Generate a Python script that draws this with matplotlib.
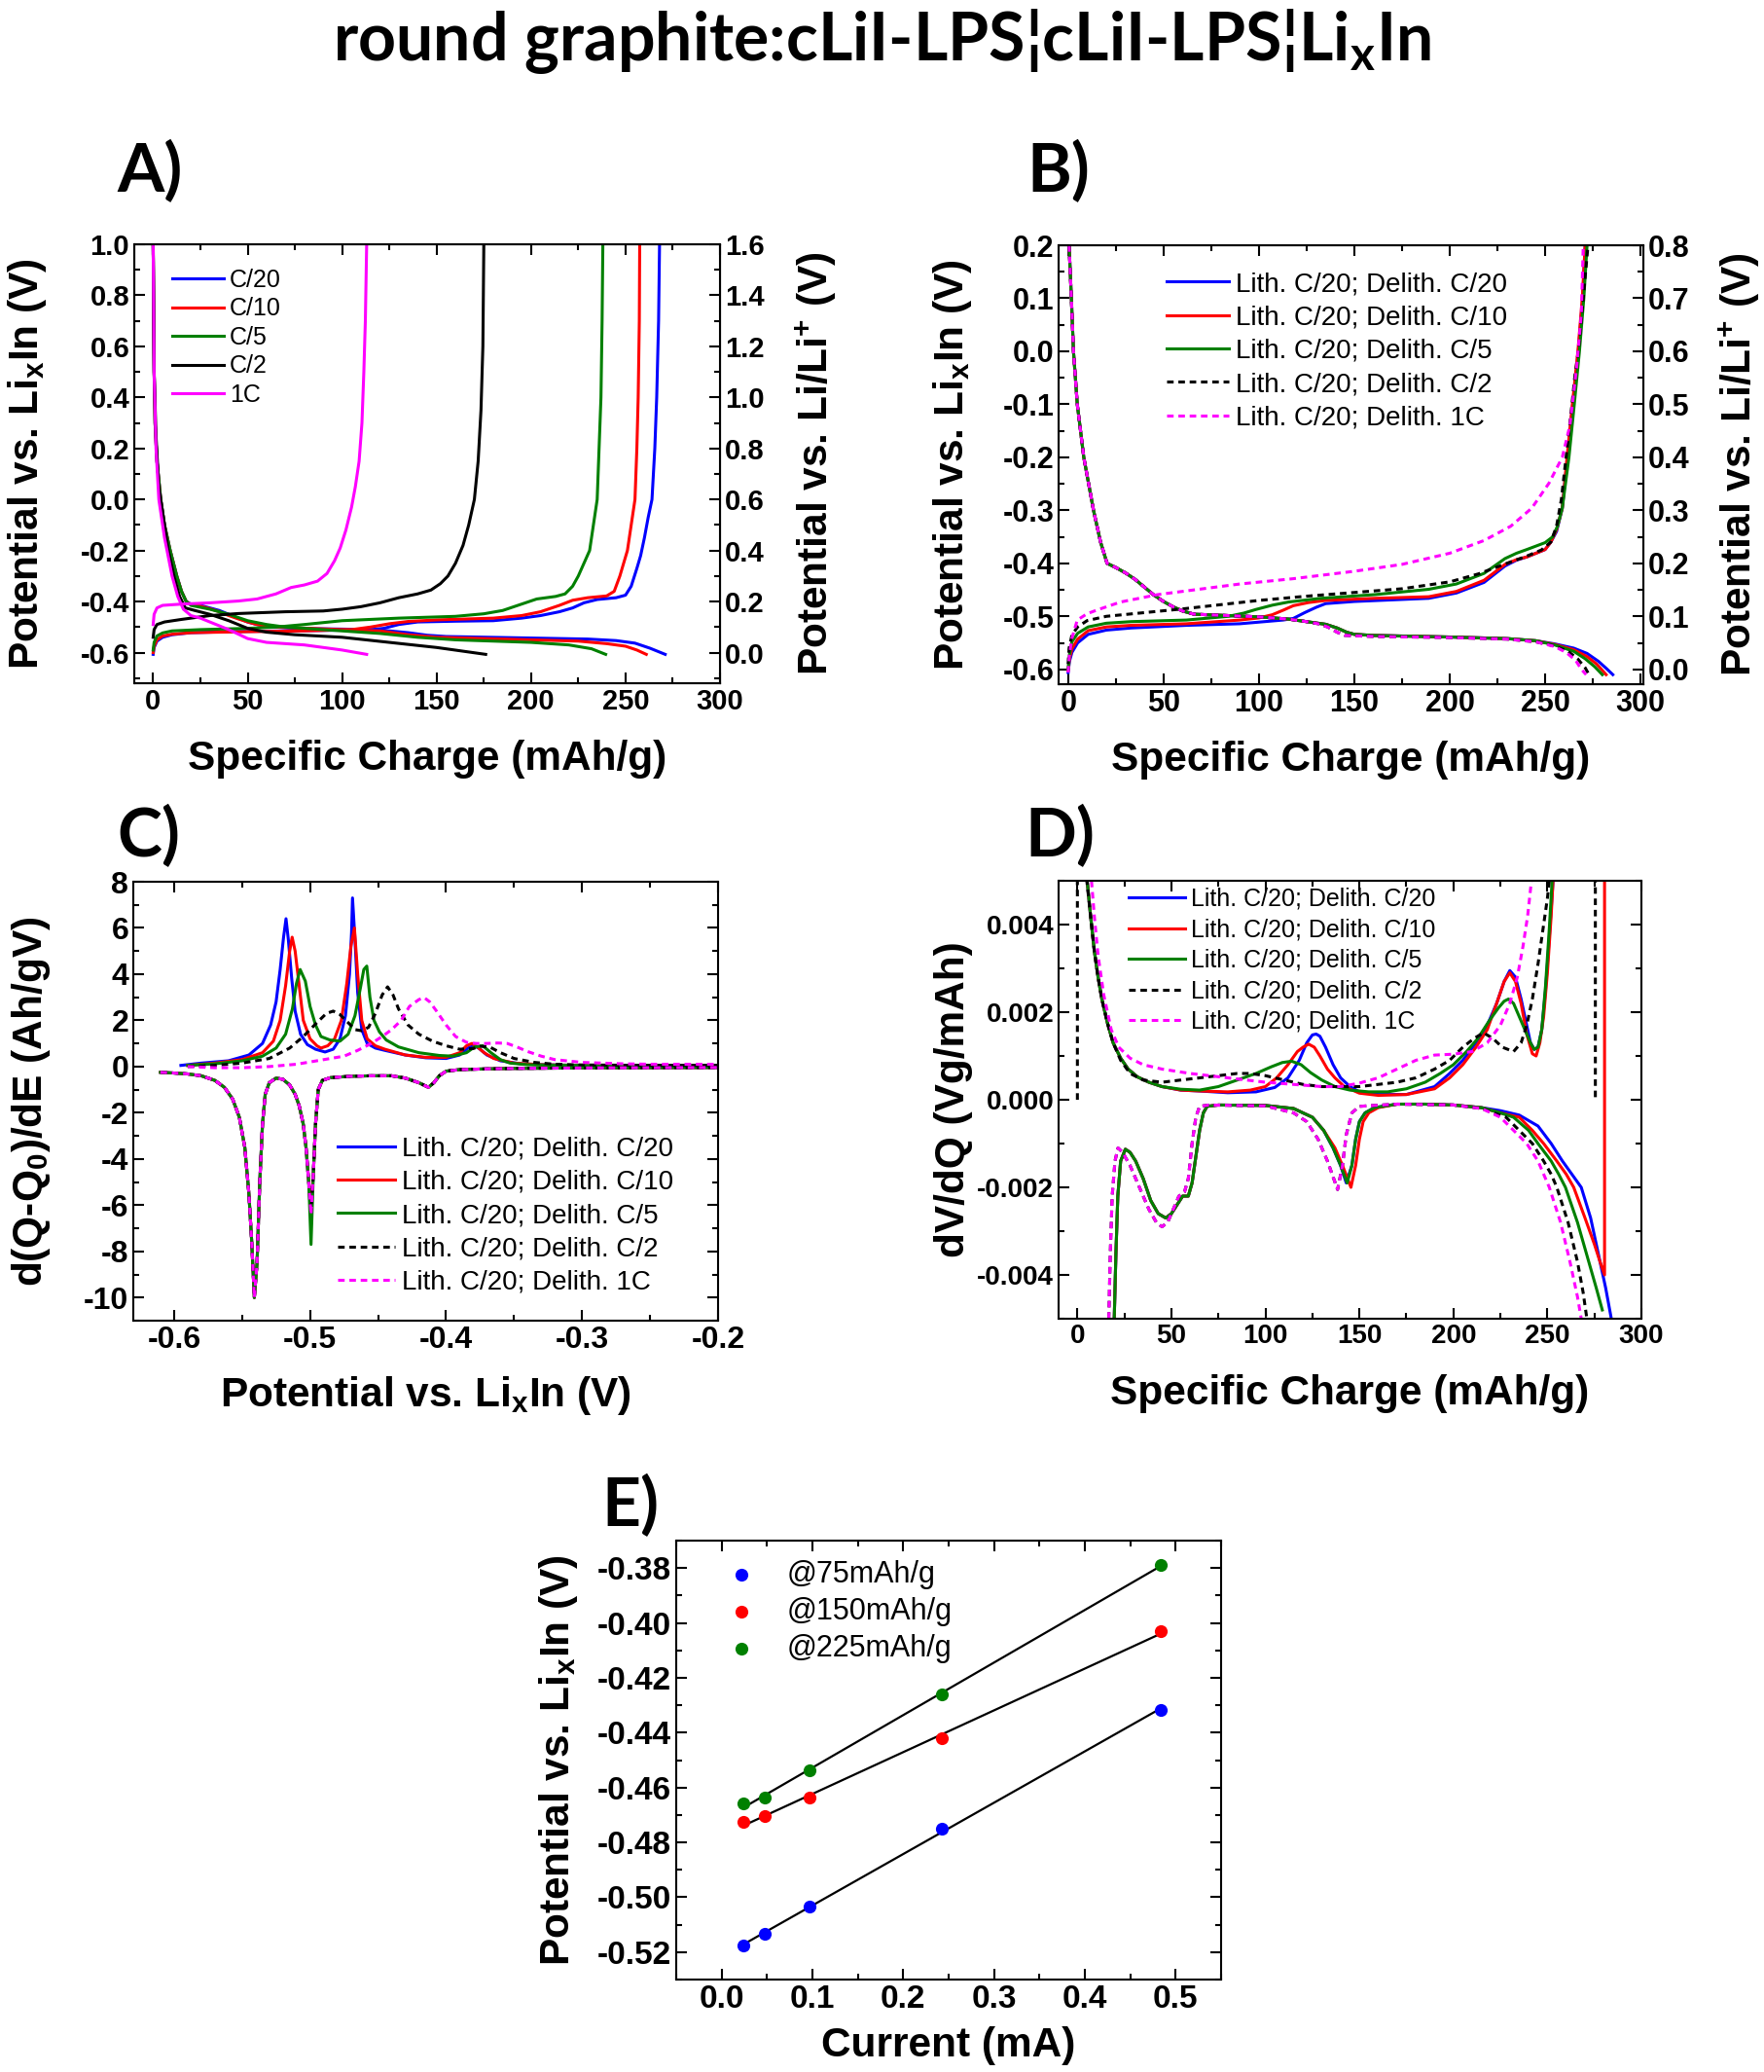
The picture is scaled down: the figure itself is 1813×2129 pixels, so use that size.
import numpy as np
import matplotlib
matplotlib.use("Agg")
import matplotlib.pyplot as plt
from matplotlib.ticker import MultipleLocator, FormatStrFormatter

W, H = 1813, 2129

plt.rcParams['font.family'] = ['Liberation Sans', 'DejaVu Sans']
plt.rcParams['font.weight'] = 'bold'
plt.rcParams['axes.unicode_minus'] = False
plt.rcParams['mathtext.default'] = 'regular'

COLORS = ['#0000ff', '#ff0000', '#008000', '#000000', '#ff00ff']
DASHED = [False, False, False, True, True]
RATES = ['C/20', 'C/10', 'C/5', 'C/2', '1C']
LEGEND_LABELS = ['Lith. C/20; Delith. C/20', 'Lith. C/20; Delith. C/10',
                 'Lith. C/20; Delith. C/5', 'Lith. C/20; Delith. C/2',
                 'Lith. C/20; Delith. 1C']

# ---- A) galvanostatic curves, (specific charge mAh/g, potential V) ----
A_LITH_C20 = [(0, 1.0), (0.5, 0.5), (1, 0.3), (2, 0.15), (4, 0.0), (6, -0.1), (9, -0.2), (12.5, -0.3),
              (15, -0.36), (17.5, -0.4), (20, -0.41), (25, -0.415), (30, -0.425), (35, -0.435), (40, -0.45),
              (45, -0.465), (50, -0.48), (55, -0.49), (60, -0.497), (65, -0.50), (75, -0.505), (100, -0.508),
              (115, -0.51), (125, -0.515), (135, -0.522), (145, -0.532), (155, -0.537), (200, -0.543),
              (230, -0.547), (245, -0.553), (255, -0.563), (263, -0.583), (271, -0.607)]
A_DELITH_C20 = [(0, -0.607), (0.5, -0.58), (2, -0.555), (5, -0.54), (10, -0.53), (20, -0.522), (40, -0.518),
                (70, -0.515), (100, -0.512), (115, -0.51), (122, -0.505), (130, -0.49), (140, -0.48),
                (160, -0.477), (180, -0.475), (195, -0.465), (205, -0.455), (215, -0.44), (222, -0.425),
                (228, -0.405), (235, -0.392), (245, -0.385), (250, -0.375), (253, -0.34), (256, -0.27),
                (258, -0.22), (260, -0.15), (262, -0.07), (264, 0.0), (265.5, 0.2), (266.5, 0.4),
                (267.5, 0.7), (268, 1.0)]
A_LITH_C10 = [(0, 1.0), (0.5, 0.5), (1, 0.3), (2, 0.15), (4, 0.0), (6, -0.1), (9, -0.2), (12.5, -0.3),
              (15, -0.36), (17.5, -0.4), (20, -0.412), (25, -0.418), (30, -0.428), (35, -0.44), (40, -0.455),
              (45, -0.468), (50, -0.48), (55, -0.49), (60, -0.497), (65, -0.50), (100, -0.51), (120, -0.515),
              (135, -0.53), (150, -0.54), (200, -0.55), (225, -0.555), (240, -0.565), (250, -0.575),
              (256, -0.59), (261, -0.607)]
A_DELITH_C10 = [(0, -0.60), (0.5, -0.575), (2, -0.55), (5, -0.535), (10, -0.528), (20, -0.522), (50, -0.518),
                (80, -0.515), (105, -0.51), (115, -0.5), (125, -0.487), (135, -0.478), (150, -0.472),
                (180, -0.465), (195, -0.455), (205, -0.44), (215, -0.415), (222, -0.395), (230, -0.385),
                (240, -0.378), (244, -0.36), (247, -0.3), (249, -0.25), (251, -0.2), (253, -0.1), (255, 0.0),
                (256, 0.2), (256.7, 0.4), (257.3, 0.7), (257.5, 1.0)]
A_LITH_C5 = [(0, 1.0), (0.5, 0.5), (1, 0.3), (2, 0.15), (4, 0.0), (6, -0.1), (9, -0.2), (12.5, -0.3),
             (15, -0.36), (17.5, -0.4), (20, -0.415), (30, -0.43), (40, -0.45), (50, -0.475), (60, -0.49),
             (70, -0.50), (100, -0.515), (120, -0.525), (140, -0.54), (160, -0.55), (200, -0.56),
             (220, -0.57), (232, -0.585), (239.5, -0.607)]
A_DELITH_C5 = [(0, -0.59), (0.5, -0.56), (2, -0.535), (5, -0.523), (10, -0.515), (25, -0.51), (50, -0.505),
               (65, -0.50), (80, -0.49), (100, -0.475), (130, -0.465), (160, -0.458), (175, -0.448),
               (185, -0.435), (195, -0.41), (203, -0.39), (213, -0.38), (218, -0.37), (222, -0.34),
               (225, -0.3), (228, -0.25), (231, -0.2), (233, -0.1), (235, 0.0), (236, 0.2), (237, 0.4),
               (237.6, 0.7), (238, 1.0)]
A_LITH_C2 = [(0, 1.0), (0.5, 0.5), (1.5, 0.25), (3, 0.05), (5, -0.05), (8, -0.2), (11, -0.3), (14, -0.38),
             (17, -0.425), (22, -0.435), (30, -0.45), (40, -0.475), (50, -0.505), (60, -0.52), (75, -0.53),
             (100, -0.54), (125, -0.56), (150, -0.58), (176, -0.607)]
A_DELITH_C2 = [(0, -0.54), (0.5, -0.51), (2, -0.49), (6, -0.48), (15, -0.47), (30, -0.455), (45, -0.447),
               (70, -0.44), (90, -0.437), (100, -0.43), (110, -0.42), (120, -0.405), (130, -0.385),
               (140, -0.37), (147, -0.355), (152, -0.33), (156, -0.3), (160, -0.25), (164, -0.18),
               (167, -0.1), (170, 0.0), (172, 0.15), (173.5, 0.35), (174.5, 0.6), (175, 1.0)]
A_LITH_1C = [(0, 1.0), (0.5, 0.5), (1.5, 0.2), (3, 0.0), (6, -0.15), (10, -0.3), (13, -0.38), (16, -0.43),
             (20, -0.455), (25, -0.465), (30, -0.48), (40, -0.51), (50, -0.545), (60, -0.56), (80, -0.57),
             (100, -0.59), (113, -0.607)]
A_DELITH_1C = [(0, -0.49), (0.5, -0.45), (2, -0.425), (5, -0.415), (15, -0.41), (30, -0.405), (45, -0.398),
               (55, -0.39), (65, -0.37), (73, -0.345), (80, -0.335), (87, -0.32), (92, -0.29), (96, -0.24),
               (99, -0.19), (102, -0.12), (105, -0.03), (107, 0.05), (109, 0.15), (110.5, 0.3),
               (111.5, 0.5), (112.3, 0.7), (113, 1.0)]

# ---- B) lithiation C/20, delithiation at different rates ----
B_LITH_SOLID_HEAD = [(0.5, 0.2), (1.7, 0.1), (2.8, 0.0), (4.8, -0.1), (8.2, -0.2), (13.3, -0.3), (17, -0.36),
                     (20.4, -0.40), (25, -0.408), (30, -0.418), (35, -0.43), (40, -0.445), (45, -0.46),
                     (50, -0.472), (55, -0.482), (60, -0.49), (66, -0.496), (80, -0.498), (100, -0.501),
                     (115, -0.505), (125, -0.51), (135, -0.515), (141, -0.522), (146, -0.53), (150, -0.534),
                     (160, -0.536), (200, -0.539), (230, -0.542), (245, -0.546)]
B_LITH_DASHED_HEAD = [(0.5, 0.2), (1.7, 0.1), (2.8, 0.0), (4.8, -0.1), (8.2, -0.2), (13.3, -0.3), (17, -0.36),
                      (20.4, -0.40), (25, -0.408), (30, -0.418), (35, -0.43), (40, -0.445), (45, -0.46),
                      (50, -0.472), (55, -0.482), (60, -0.49), (66, -0.496), (80, -0.498), (100, -0.501),
                      (115, -0.505), (125, -0.51), (131, -0.514), (136, -0.52), (141, -0.53), (145, -0.536),
                      (160, -0.538), (200, -0.54), (230, -0.543), (245, -0.548)]
B_LITH_TAIL_C20 = [(255, -0.552), (265, -0.56), (272, -0.57), (278, -0.585), (282, -0.598), (285.5, -0.61)]
B_LITH_TAIL_C10 = [(255, -0.553), (265, -0.563), (272, -0.576), (277, -0.59), (282, -0.61)]
B_LITH_TAIL_C5 = [(255, -0.554), (265, -0.566), (271, -0.58), (276, -0.595), (280, -0.61)]
B_LITH_TAIL_C2 = [(255, -0.556), (262, -0.566), (267, -0.58), (271, -0.597), (273, -0.61)]
B_LITH_TAIL_1C = [(255, -0.557), (261, -0.568), (266, -0.583), (269, -0.6), (271.5, -0.61)]
B_DELITH_C20 = [(0, -0.606), (0.7, -0.585), (2, -0.568), (5, -0.55), (10.5, -0.534), (20, -0.526),
                (33, -0.522), (62, -0.517), (90, -0.514), (112.7, -0.507), (118, -0.504), (124, -0.493),
                (130, -0.483), (135, -0.476), (150, -0.472), (189, -0.466), (203.5, -0.456), (218, -0.436),
                (229, -0.405), (235, -0.394), (240.4, -0.388), (250, -0.374), (253, -0.36), (256, -0.34),
                (259, -0.296), (261.7, -0.2), (264.5, -0.1), (267.4, 0.0), (269.7, 0.1), (271, 0.2)]
B_DELITH_C10 = [(0, -0.602), (0.7, -0.58), (2, -0.561), (5, -0.543), (10.5, -0.527), (20, -0.52),
                (33, -0.517), (62, -0.514), (90, -0.507), (100, -0.503), (107, -0.497), (113, -0.488),
                (118, -0.48), (126, -0.474), (135, -0.47), (161, -0.466), (189, -0.463), (203.5, -0.453),
                (218, -0.432), (229, -0.402), (235, -0.393), (240.4, -0.388), (250, -0.374), (253, -0.36),
                (256, -0.337), (259, -0.296), (261.5, -0.2), (264.3, -0.1), (267.2, 0.0), (269.5, 0.1),
                (271, 0.2)]
B_DELITH_C5 = [(0, -0.599), (0.7, -0.572), (2, -0.548), (5, -0.532), (10.5, -0.52), (20, -0.513),
               (33, -0.51), (62, -0.507), (84, -0.5), (92, -0.494), (98.5, -0.487), (107, -0.479),
               (115.5, -0.473), (132.5, -0.466), (161, -0.459), (189, -0.449), (203.5, -0.439),
               (218, -0.419), (229, -0.391), (235, -0.381), (240.4, -0.374), (250, -0.361), (254, -0.35),
               (256.5, -0.33), (259, -0.296), (262.5, -0.2), (265.3, -0.1), (268, 0.0), (270.3, 0.1),
               (272, 0.2)]
B_DELITH_C2 = [(0, -0.59), (0.5, -0.56), (2, -0.535), (5, -0.52), (10, -0.508), (20, -0.5), (40, -0.493),
               (60, -0.486), (80, -0.478), (100, -0.47), (125, -0.462), (150, -0.455), (175, -0.448),
               (200, -0.435), (215, -0.42), (230, -0.4), (240, -0.387), (248, -0.375), (253, -0.36),
               (256, -0.33), (258.5, -0.28), (261, -0.2), (263.5, -0.12), (265.5, -0.05), (267.4, 0.0),
               (270, 0.1), (272.5, 0.2)]
B_DELITH_1C = [(0, -0.606), (0.6, -0.575), (2, -0.541), (4.8, -0.507), (10, -0.495), (16, -0.487),
               (27.5, -0.473), (47, -0.459), (90, -0.439), (118, -0.429), (150, -0.415), (175, -0.402),
               (200, -0.381), (218, -0.357), (232, -0.33), (243, -0.296), (252, -0.249), (259, -0.2),
               (263, -0.14), (266.5, -0.031), (269, 0.071), (270, 0.2)]

# ---- C) differential capacity, potential (V) ----
C_LITH_V = [-0.61, -0.60, -0.59, -0.58, -0.57, -0.563, -0.557, -0.552, -0.548, -0.545, -0.543, -0.541, -0.539,
            -0.537, -0.535, -0.533, -0.530, -0.525, -0.52, -0.515, -0.511, -0.508, -0.505, -0.503, -0.501,
            -0.4993, -0.4975, -0.496, -0.494, -0.491, -0.485, -0.47, -0.455, -0.44, -0.43, -0.42, -0.413,
            -0.409, -0.405, -0.40, -0.39, -0.37, -0.35, -0.3, -0.25, -0.2]
C_LITH_DQ = [-0.25, -0.28, -0.32, -0.4, -0.6, -0.9, -1.4, -2.2, -3.5, -5.5, -7.5, -10.0, -8.5, -5.0, -2.5,
             -1.2, -0.7, -0.5, -0.55, -0.8, -1.2, -1.7, -2.5, -3.5, -5.0, -6.4, -4.5, -2.5, -1.0, -0.6,
             -0.48, -0.42, -0.4, -0.4, -0.5, -0.7, -0.9, -0.7, -0.4, -0.2, -0.13, -0.1, -0.08, -0.06,
             -0.05, -0.04]
C_LITH_DIP2 = [-6.5, -6.3, -7.7, -6.2, -6.4]   # depth of the -0.5 V lithiation peak per series
C_DELITH_V_C20 = [-0.595, -0.58, -0.56, -0.545, -0.535, -0.529, -0.525, -0.522, -0.5195, -0.5177, -0.516,
                  -0.5135, -0.511, -0.507, -0.502, -0.496, -0.489, -0.483, -0.478, -0.474, -0.471, -0.4695,
                  -0.4688, -0.467, -0.465, -0.462, -0.458, -0.452, -0.445, -0.43, -0.415, -0.40, -0.39,
                  -0.384, -0.38, -0.376, -0.37, -0.36, -0.345, -0.33, -0.3, -0.25, -0.2]
C_DELITH_DQ_C20 = [0.05, 0.15, 0.25, 0.5, 1.0, 1.8, 2.8, 4.2, 5.6, 6.4, 5.5, 3.8, 2.4, 1.4, 0.95, 0.75, 0.63,
                   0.75, 1.2, 2.2, 4.0, 5.8, 7.3, 5.5, 3.2, 1.6, 1.0, 0.8, 0.7, 0.5, 0.38, 0.35, 0.5, 0.8,
                   0.9, 0.8, 0.5, 0.25, 0.12, 0.08, 0.05, 0.04, 0.04]
C_DELITH_V_C10 = [-0.59, -0.57, -0.55, -0.535, -0.527, -0.522, -0.518, -0.515, -0.5132, -0.511, -0.508,
                  -0.505, -0.5, -0.495, -0.492, -0.487, -0.482, -0.477, -0.473, -0.47, -0.4674, -0.465,
                  -0.462, -0.458, -0.452, -0.445, -0.43, -0.415, -0.40, -0.39, -0.385, -0.381, -0.377,
                  -0.372, -0.365, -0.35, -0.33, -0.3, -0.25, -0.2]
C_DELITH_DQ_C10 = [0.05, 0.15, 0.3, 0.6, 1.1, 2.0, 3.5, 5.0, 5.6, 5.0, 3.5, 2.0, 1.2, 0.9, 0.8, 0.9, 1.2,
                   2.0, 3.6, 5.2, 6.0, 4.0, 2.0, 1.2, 0.9, 0.75, 0.5, 0.4, 0.4, 0.6, 0.9, 1.0, 0.85, 0.6,
                   0.35, 0.15, 0.08, 0.05, 0.04, 0.04]
C_DELITH_V_C5 = [-0.59, -0.57, -0.55, -0.535, -0.525, -0.518, -0.513, -0.51, -0.5073, -0.5035, -0.5, -0.496,
                 -0.492, -0.4854, -0.478, -0.472, -0.467, -0.463, -0.4605, -0.4583, -0.456, -0.453, -0.449,
                 -0.444, -0.435, -0.42, -0.405, -0.395, -0.385, -0.379, -0.373, -0.367, -0.36, -0.353,
                 -0.34, -0.32, -0.3, -0.25, -0.2]
C_DELITH_DQ_C5 = [0.05, 0.12, 0.25, 0.45, 0.8, 1.4, 2.5, 3.6, 4.2, 3.7, 2.6, 1.8, 1.3, 1.15, 1.1, 1.4, 2.2,
                  3.4, 4.2, 4.35, 3.0, 2.0, 1.5, 1.15, 0.85, 0.6, 0.48, 0.45, 0.6, 0.85, 0.9, 0.6, 0.3,
                  0.15, 0.08, 0.06, 0.05, 0.04, 0.04]
C_DELITH_V_C2 = [-0.59, -0.57, -0.55, -0.53, -0.515, -0.505, -0.495, -0.488, -0.483, -0.478, -0.472, -0.467,
                 -0.462, -0.457, -0.452, -0.447, -0.443, -0.439, -0.435, -0.428, -0.42, -0.41, -0.40, -0.39,
                 -0.38, -0.375, -0.368, -0.36, -0.35, -0.335, -0.32, -0.3, -0.25, -0.2]
C_DELITH_DQ_C2 = [0.0, 0.05, 0.15, 0.35, 0.8, 1.3, 1.9, 2.3, 2.4, 2.25, 1.9, 1.6, 1.55, 1.7, 2.3, 3.1, 3.45,
                  3.1, 2.5, 1.8, 1.4, 1.1, 0.9, 0.75, 0.78, 0.88, 0.85, 0.6, 0.35, 0.18, 0.1, 0.07, 0.05,
                  0.05]
C_DELITH_V_1C = [-0.59, -0.57, -0.55, -0.53, -0.51, -0.49, -0.475, -0.465, -0.455, -0.447, -0.44, -0.433,
                 -0.427, -0.42, -0.416, -0.412, -0.407, -0.40, -0.393, -0.385, -0.378, -0.37, -0.362,
                 -0.355, -0.348, -0.34, -0.33, -0.32, -0.3, -0.27, -0.25, -0.2]
C_DELITH_DQ_1C = [0.0, -0.05, -0.05, 0.0, 0.1, 0.3, 0.45, 0.7, 1.0, 1.3, 1.6, 2.0, 2.6, 2.9, 2.98, 2.8, 2.4,
                  1.8, 1.3, 1.05, 1.0, 1.0, 1.02, 1.0, 0.85, 0.65, 0.45, 0.3, 0.18, 0.12, 0.1, 0.1]

# ---- D) differential voltage, specific charge (mAh/g) ----
D_UP_Q_C20 = [5.2, 7, 9, 11, 13, 16, 19, 23, 27, 32, 38, 45, 55, 65, 80, 95, 105, 112, 118, 122, 125, 127,
              129, 132, 136, 140, 145, 150, 160, 175, 190, 198, 205, 212, 218, 223, 227, 230, 233, 236, 239,
              241, 243, 245, 247, 249, 251, 253]
D_UP_DV_C20 = [0.005, 0.0042, 0.0034, 0.0028, 0.0023, 0.00175, 0.0013, 0.00095, 0.0007, 0.00052, 0.0004,
               0.0003, 0.00022, 0.0002, 0.00016, 0.00018, 0.00028, 0.0005, 0.0009, 0.0013, 0.00148, 0.0015,
               0.00145, 0.0012, 0.0008, 0.0005, 0.0003, 0.00018, 0.00012, 0.00012, 0.0003, 0.0006, 0.0009,
               0.0013, 0.0017, 0.0022, 0.0027, 0.00295, 0.0028, 0.0023, 0.0017, 0.0013, 0.00115, 0.0012,
               0.0016, 0.0025, 0.0037, 0.005]
D_UP_Q_C10 = [5.2, 7, 9, 11, 13, 16, 19, 23, 27, 32, 38, 45, 55, 65, 80, 92, 100, 106, 112, 117, 120, 123,
              126, 129, 133, 137, 142, 150, 160, 175, 190, 198, 205, 212, 218, 223, 227, 230, 233, 236, 239,
              242, 244, 246, 248, 250, 252, 253]
D_UP_DV_C10 = [0.005, 0.0042, 0.0034, 0.0028, 0.0023, 0.00175, 0.0013, 0.00095, 0.0007, 0.00052, 0.0004,
               0.0003, 0.00022, 0.0002, 0.00018, 0.00022, 0.0003, 0.0005, 0.0008, 0.0011, 0.0012, 0.00127,
               0.0012, 0.001, 0.0007, 0.0005, 0.0003, 0.00015, 0.0001, 0.00012, 0.00025, 0.0005, 0.0008,
               0.0012, 0.0016, 0.0022, 0.0027, 0.0029, 0.0027, 0.0022, 0.0015, 0.00105, 0.001, 0.0013,
               0.0019, 0.0029, 0.0042, 0.005]
D_UP_Q_C5 = [5.2, 7, 9, 11, 13, 16, 19, 23, 27, 32, 38, 45, 55, 65, 75, 85, 95, 103, 109, 114, 119, 124, 130,
             137, 145, 155, 165, 175, 185, 193, 200, 207, 213, 219, 224, 227, 229.3, 232, 235, 238, 241, 243,
             245, 247, 249, 251, 252.5]
D_UP_DV_C5 = [0.005, 0.0042, 0.0034, 0.0028, 0.0023, 0.00175, 0.0013, 0.00095, 0.0007, 0.00052, 0.0004,
              0.0003, 0.00024, 0.00022, 0.0003, 0.00045, 0.0006, 0.00075, 0.00085, 0.00088, 0.0008, 0.00062,
              0.00045, 0.0003, 0.00022, 0.00018, 0.00018, 0.00025, 0.0004, 0.0006, 0.0008, 0.0011, 0.0014,
              0.0018, 0.0021, 0.00225, 0.0023, 0.0022, 0.0019, 0.0016, 0.0013, 0.00115, 0.0012, 0.0016,
              0.0026, 0.0039, 0.005]
D_UP_Q_C2 = [0, 0, 5, 7, 9, 11, 13, 16, 19, 23, 28, 35, 45, 55, 65, 75, 85, 92, 100, 110, 120, 130, 140, 150,
             160, 170, 180, 190, 198, 205, 211, 216, 221, 226, 232, 236, 239, 242, 245, 248, 250, 251, 251,
             275.5, 275.5]
D_UP_DV_C2 = [0, 0.006, 0.005, 0.0042, 0.0034, 0.0028, 0.0023, 0.00175, 0.0013, 0.0009, 0.0006, 0.00045,
              0.0004, 0.00045, 0.0005, 0.00055, 0.0006, 0.0006, 0.00055, 0.00045, 0.00035, 0.0003, 0.0003,
              0.0003, 0.00035, 0.0004, 0.0005, 0.0007, 0.0009, 0.0012, 0.0014, 0.00153, 0.0014, 0.0012,
              0.0011, 0.0013, 0.0017, 0.0023, 0.0031, 0.004, 0.0046, 0.005, 0.006, 0.006, 0.0]
D_UP_Q_1C = [7.5, 9, 11, 14, 18, 22, 28, 35, 45, 60, 80, 100, 115, 130, 140, 150, 160, 170, 180, 190, 200,
             210, 218, 225, 230, 234, 237, 239.5, 241.5]
D_UP_DV_1C = [0.005, 0.0042, 0.0033, 0.0024, 0.0016, 0.0012, 0.00095, 0.0008, 0.0007, 0.0006, 0.0005,
              0.0004, 0.00035, 0.0003, 0.0003, 0.00038, 0.0005, 0.0007, 0.0009, 0.00102, 0.00104, 0.0011,
              0.0013, 0.0017, 0.0022, 0.0028, 0.0035, 0.0042, 0.005]
D_LO_Q_C20 = [19.6, 20.5, 21.5, 23, 25.5, 28, 31, 35, 39, 43, 47, 50, 53, 56, 59, 61, 63, 65, 67, 69, 75,
              100, 115, 125, 131, 136, 140, 143, 146, 148, 150, 153, 158, 170, 185, 200, 215, 225, 235, 245,
              252, 258, 263, 268, 273, 277, 281, 284]
D_LO_DV_C20 = [-0.005, -0.0035, -0.0022, -0.0014, -0.00113, -0.0012, -0.0014, -0.0018, -0.0023, -0.0026,
               -0.0027, -0.0026, -0.0024, -0.0022, -0.0022, -0.0019, -0.0013, -0.0007, -0.0003, -0.00015,
               -0.00012, -0.00013, -0.0002, -0.0004, -0.0007, -0.0011, -0.0015, -0.0019, -0.0015, -0.0009,
               -0.0005, -0.0003, -0.00018, -0.0001, -0.0001, -0.00012, -0.00018, -0.00025, -0.00035,
               -0.0006, -0.001, -0.0014, -0.0017, -0.002, -0.0027, -0.0035, -0.0043, -0.005]
D_LO_Q_C10 = [19.6, 20.5, 21.5, 23, 25.5, 28, 31, 35, 39, 43, 47, 50, 53, 56, 59, 61, 63, 65, 67, 69, 75,
              100, 115, 125, 131, 137, 141, 145.5, 148, 150, 152, 155, 160, 170, 185, 200, 215, 225, 235,
              242, 248, 255, 260, 264, 270, 275, 278, 280.4, 280.4]
D_LO_DV_C10 = [-0.005, -0.0035, -0.0022, -0.0014, -0.00113, -0.0012, -0.0014, -0.0018, -0.0023, -0.0026,
               -0.0027, -0.0026, -0.0024, -0.0022, -0.0022, -0.0019, -0.0013, -0.0007, -0.0003, -0.00015,
               -0.00012, -0.00013, -0.0002, -0.0004, -0.0007, -0.0011, -0.0015, -0.002, -0.0015, -0.0009,
               -0.0005, -0.0003, -0.00018, -0.0001, -0.0001, -0.00012, -0.00018, -0.0003, -0.0004, -0.0007,
               -0.001, -0.0014, -0.0017, -0.002, -0.0027, -0.0033, -0.0037, -0.004, 0.006]
D_LO_Q_C5 = [19.6, 20.5, 21.5, 23, 25.5, 28, 31, 35, 39, 43, 47, 50, 53, 56, 59, 61, 63, 65, 67, 69, 75, 100,
             115, 125, 131, 136, 140, 143.5, 146, 148, 150, 153, 158, 170, 185, 200, 215, 225, 232, 240, 245,
             252, 256, 259.6, 266, 272, 276, 279.2]
D_LO_DV_C5 = [-0.005, -0.0035, -0.0022, -0.0014, -0.00113, -0.0012, -0.0014, -0.0018, -0.0023, -0.0026,
              -0.0027, -0.0026, -0.0024, -0.0022, -0.0022, -0.0019, -0.0013, -0.0007, -0.0003, -0.00015,
              -0.00012, -0.00013, -0.0002, -0.0004, -0.0007, -0.0011, -0.0015, -0.0019, -0.0015, -0.0009,
              -0.0005, -0.0003, -0.00018, -0.0001, -0.0001, -0.00012, -0.00018, -0.0003, -0.0004, -0.0007,
              -0.001, -0.0014, -0.0017, -0.002, -0.0028, -0.0037, -0.0043, -0.0048]
D_LO_Q_C2 = [16.7, 17.5, 18.5, 20, 21.6, 24, 28, 33, 38, 42, 45, 48, 51, 54, 57, 59, 61, 63, 65, 70, 100, 115,
             122, 128, 133, 138.4, 141, 143, 146, 150, 170, 200, 215, 228, 235, 242, 248, 252, 255, 261, 266,
             269, 271]
D_LO_DV_C2 = [-0.005, -0.0035, -0.0022, -0.0014, -0.0011, -0.0012, -0.0015, -0.002, -0.0025, -0.0028,
              -0.0029, -0.0028, -0.0025, -0.0022, -0.0021, -0.0018, -0.001, -0.0004, -0.00015, -0.00012,
              -0.00014, -0.0003, -0.0005, -0.0009, -0.0014, -0.00205, -0.0015, -0.0008, -0.0003, -0.00015,
              -0.0001, -0.00012, -0.0002, -0.0004, -0.0007, -0.001, -0.0014, -0.0017, -0.002, -0.0028,
              -0.0037, -0.0044, -0.005]
D_LO_Q_1C = [16.7, 17.5, 18.5, 20, 21.6, 24, 28, 33, 38, 42, 45, 48, 51, 54, 57, 59, 61, 63, 65, 70, 100, 115,
             122, 128, 133, 138.4, 141, 143, 146, 150, 170, 200, 215, 225, 232, 239, 245, 248, 251, 257, 262,
             266, 268]
D_LO_DV_1C = [-0.005, -0.0035, -0.0022, -0.0014, -0.0011, -0.0012, -0.0015, -0.002, -0.0025, -0.0028,
              -0.0029, -0.0028, -0.0025, -0.0022, -0.0021, -0.0018, -0.001, -0.0004, -0.00015, -0.00012,
              -0.00014, -0.0003, -0.0005, -0.0009, -0.0014, -0.00205, -0.0015, -0.0008, -0.0003, -0.00015,
              -0.0001, -0.00012, -0.0002, -0.0004, -0.0007, -0.001, -0.0014, -0.0017, -0.002, -0.0028,
              -0.0037, -0.0045, -0.005]

# ---- E) overpotential vs current ----
E_CURRENT = [0.024, 0.048, 0.097, 0.242, 0.484]
E_LABELS = ['@75mAh/g', '@150mAh/g', '@225mAh/g']
E_V_75 = [-0.5176, -0.5133, -0.5033, -0.4749, -0.4318]
E_V_150 = [-0.4724, -0.4704, -0.4636, -0.4420, -0.4031]
E_V_225 = [-0.4659, -0.4636, -0.4538, -0.4259, -0.3789]

LABEL_SIZE = 30.5


def px_axes(fig, left, top, right, bottom):
    """Add axes using pixel edges measured from the top-left corner."""
    return fig.add_axes([left / W, 1 - bottom / H, (right - left) / W, (bottom - top) / H])


def style_axis(ax, xmaj, ymaj, xfmt, yfmt, size, right=True):
    ax.xaxis.set_major_locator(MultipleLocator(xmaj))
    ax.xaxis.set_minor_locator(MultipleLocator(xmaj / 2))
    ax.yaxis.set_major_locator(MultipleLocator(ymaj))
    ax.yaxis.set_minor_locator(MultipleLocator(ymaj / 2))
    ax.xaxis.set_major_formatter(FormatStrFormatter(xfmt))
    ax.yaxis.set_major_formatter(FormatStrFormatter(yfmt))
    ax.tick_params(which='both', direction='in', top=True, right=right, width=1.5, labelsize=size)
    ax.tick_params(which='major', length=8)
    ax.tick_params(which='minor', length=4)
    for sp in ax.spines.values():
        sp.set_linewidth(1.5)


def add_right_axis(ax, offset, ymaj, label, xcoord, size):
    lo, hi = ax.get_ylim()
    ax2 = ax.twinx()
    ax2.set_ylim(lo + offset, hi + offset)
    ax2.yaxis.set_major_locator(MultipleLocator(ymaj))
    ax2.yaxis.set_minor_locator(MultipleLocator(ymaj / 2))
    ax2.yaxis.set_major_formatter(FormatStrFormatter('%.1f'))
    ax2.tick_params(which='both', direction='in', width=1.5, labelsize=size)
    ax2.tick_params(which='major', length=8)
    ax2.tick_params(which='minor', length=4)
    ax2.set_ylabel(label, fontsize=LABEL_SIZE, fontweight='bold')
    ax2.yaxis.set_label_coords(xcoord, 0.5)
    return ax2


def line_style(i):
    if DASHED[i]:
        return dict(color=COLORS[i], lw=2.2, linestyle=(0, (2.2, 1.6)))
    return dict(color=COLORS[i], lw=2.2, linestyle='-')


def legend(ax, handles, labels, anchor, loc, size, spacing, hlen):
    ax.legend(handles, labels, loc=loc, bbox_to_anchor=anchor, frameon=False, borderaxespad=0,
              borderpad=0, handlelength=hlen, handletextpad=0.25, labelspacing=spacing,
              prop={'size': size, 'weight': 'normal'})


def pairs(seq):
    arr = np.array(seq, dtype=float)
    return arr[:, 0], arr[:, 1]


def set_labels(ax, xlabel, ylabel, xpos, ypos):
    ax.set_xlabel(xlabel, fontsize=LABEL_SIZE, fontweight='bold')
    ax.set_ylabel(ylabel, fontsize=LABEL_SIZE, fontweight='bold')
    ax.xaxis.set_label_coords(0.5, xpos)
    ax.yaxis.set_label_coords(ypos, 0.5)


VLABEL = 'Potential vs. Li$_\\mathregular{x}$In (V)'
RLABEL = 'Potential vs. Li/Li$^\\mathregular{+}$ (V)'
QLABEL = 'Specific Charge (mAh/g)'

fig = plt.figure(figsize=(W / 100, H / 100), dpi=100)

fig.text(0.5, 1 - 62 / H, 'round graphite:cLiI-LPS\u00a6cLiI-LPS\u00a6Li$_\\mathregular{x}$In',
         ha='center', va='baseline', fontsize=49, fontweight='bold', family=['Lato', 'DejaVu Sans'])
for lab, x, y in [('A)', 120, 197), ('B)', 1055, 197), ('C)', 120, 880), ('D)', 1053, 880),
                  ('E)', 618, 1568)]:
    fig.text(x / W, 1 - y / H, lab, ha='left', va='baseline', fontsize=50, fontweight='bold',
             family=['Lato', 'DejaVu Sans'])

# --- A ---
axA = px_axes(fig, 138, 251, 740, 702)
a_lith = [A_LITH_C20, A_LITH_C10, A_LITH_C5, A_LITH_C2, A_LITH_1C]
a_delith = [A_DELITH_C20, A_DELITH_C10, A_DELITH_C5, A_DELITH_C2, A_DELITH_1C]
handles = []
for i in range(5):
    q, v = pairs(a_lith[i])
    h, = axA.plot(q, v, color=COLORS[i], lw=2.2)
    q, v = pairs(a_delith[i])
    axA.plot(q, v, color=COLORS[i], lw=2.2)
    handles.append(h)
axA.set_xlim(-10, 300)
axA.set_ylim(-0.72, 1.0)
style_axis(axA, 50, 0.2, '%d', '%.1f', 21, right=False)
set_labels(axA, QLABEL, VLABEL, -0.129, -0.146)
legend(axA, handles, RATES, (0.065, 0.945), 'upper left', 18, 0.22, 2.1)
add_right_axis(axA, 0.6, 0.2, RLABEL, 1.125, 21)

# --- B ---
axB = px_axes(fig, 1088, 252, 1689, 703)
b_tails = [B_LITH_TAIL_C20, B_LITH_TAIL_C10, B_LITH_TAIL_C5, B_LITH_TAIL_C2, B_LITH_TAIL_1C]
b_delith = [B_DELITH_C20, B_DELITH_C10, B_DELITH_C5, B_DELITH_C2, B_DELITH_1C]
handles = []
for i in range(5):
    head = B_LITH_DASHED_HEAD if DASHED[i] else B_LITH_SOLID_HEAD
    q, v = pairs(head + b_tails[i])
    h, = axB.plot(q, v, **line_style(i))
    q, v = pairs(b_delith[i])
    axB.plot(q, v, **line_style(i))
    handles.append(h)
axB.set_xlim(-5, 301.5)
axB.set_ylim(-0.628, 0.2)
style_axis(axB, 50, 0.1, '%d', '%.1f', 22, right=False)
set_labels(axB, QLABEL, VLABEL, -0.129, -0.145)
legend(axB, handles, LEGEND_LABELS, (0.185, 0.94), 'upper left', 20, 0.3, 2.3)
add_right_axis(axB, 0.6, 0.1, RLABEL, 1.126, 22)

# --- C ---
axC = px_axes(fig, 137, 906, 738, 1357)
c_v = [C_DELITH_V_C20, C_DELITH_V_C10, C_DELITH_V_C5, C_DELITH_V_C2, C_DELITH_V_1C]
c_dq = [C_DELITH_DQ_C20, C_DELITH_DQ_C10, C_DELITH_DQ_C5, C_DELITH_DQ_C2, C_DELITH_DQ_1C]
dip_idx = int(np.argmin(np.abs(np.array(C_LITH_V) + 0.4993)))
handles = []
for i in range(5):
    lith = list(C_LITH_DQ)
    lith[dip_idx] = C_LITH_DIP2[i]
    axC.plot(C_LITH_V, lith, **line_style(i))
    h, = axC.plot(c_v[i], c_dq[i], **line_style(i))
    handles.append(h)
axC.set_xlim(-0.63, -0.2)
axC.set_ylim(-11, 8)
style_axis(axC, 0.1, 2, '%.1f', '%d', 23)
set_labels(axC, VLABEL, 'd(Q-Q$_\\mathregular{0}$)/dE (Ah/gV)', -0.122, -0.138)
legend(axC, handles, LEGEND_LABELS, (0.349, 0.058), 'lower left', 20, 0.3, 2.15)

# --- D ---
axD = px_axes(fig, 1088, 905, 1687, 1355)
d_up = [(D_UP_Q_C20, D_UP_DV_C20), (D_UP_Q_C10, D_UP_DV_C10), (D_UP_Q_C5, D_UP_DV_C5),
        (D_UP_Q_C2, D_UP_DV_C2), (D_UP_Q_1C, D_UP_DV_1C)]
d_lo = [(D_LO_Q_C20, D_LO_DV_C20), (D_LO_Q_C10, D_LO_DV_C10), (D_LO_Q_C5, D_LO_DV_C5),
        (D_LO_Q_C2, D_LO_DV_C2), (D_LO_Q_1C, D_LO_DV_1C)]
handles = []
for i in range(5):
    h, = axD.plot(d_up[i][0], d_up[i][1], **line_style(i))
    axD.plot(d_lo[i][0], d_lo[i][1], **line_style(i))
    handles.append(h)
axD.set_xlim(-10, 300)
axD.set_ylim(-0.005, 0.005)
style_axis(axD, 50, 0.002, '%d', '%.3f', 20)
set_labels(axD, QLABEL, 'dV/dQ (Vg/mAh)', -0.126, -0.147)
legend(axD, handles, LEGEND_LABELS, (0.121, 0.985), 'upper left', 18, 0.3, 2.3)

# --- E ---
axE = px_axes(fig, 695, 1583, 1255, 2034)
e_sets = [E_V_75, E_V_150, E_V_225]
handles = []
for i, vals in enumerate(e_sets):
    slope, icpt = np.polyfit(E_CURRENT, vals, 1)
    xs = np.array([min(E_CURRENT), max(E_CURRENT)])
    axE.plot(xs, slope * xs + icpt, color='black', lw=1.6, zorder=2)
    h = axE.scatter(E_CURRENT, vals, s=90, color=COLORS[i], zorder=3, linewidths=0)
    handles.append(h)
axE.set_xlim(-0.05, 0.55)
axE.set_ylim(-0.53, -0.37)
style_axis(axE, 0.1, 0.02, '%.1f', '%.2f', 24)
set_labels(axE, 'Current (mA)', VLABEL, -0.106, -0.176)
axE.legend(handles, E_LABELS, loc='upper left', bbox_to_anchor=(0.093, 0.955), frameon=False,
           borderaxespad=0, borderpad=0, handlelength=1.0, handletextpad=1.0, labelspacing=0.26,
           prop={'size': 22, 'weight': 'normal'})

fig.savefig('out.png', dpi=100)
